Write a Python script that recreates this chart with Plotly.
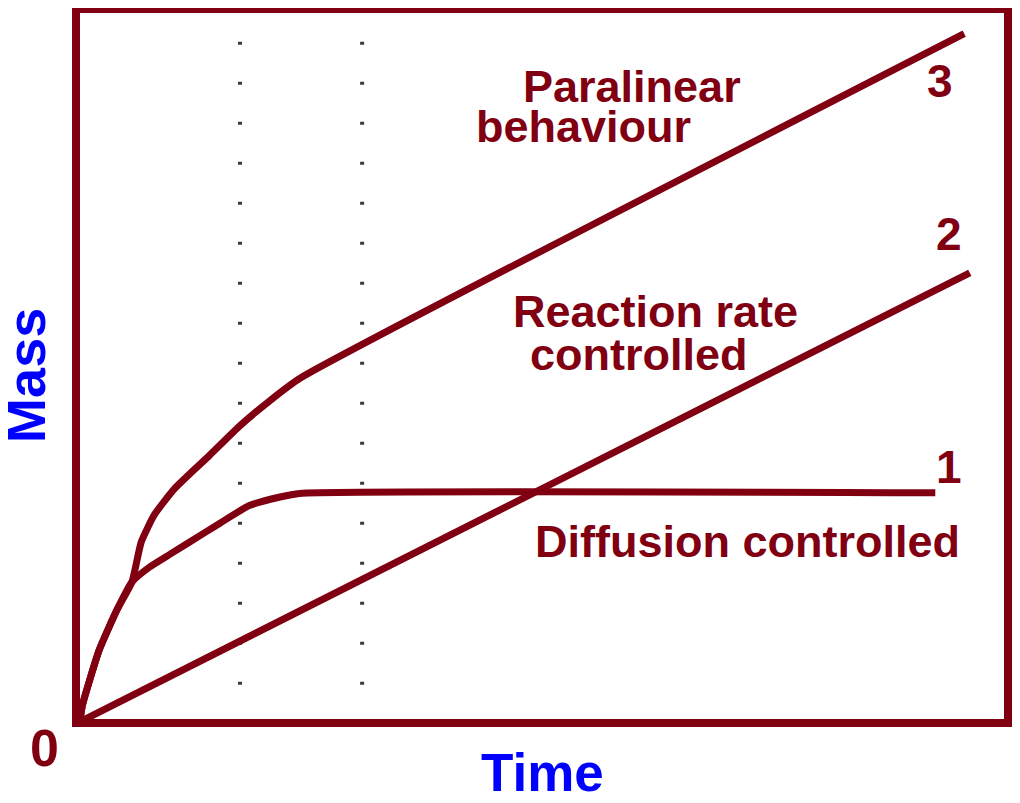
"""
Schematic mass gain vs time for the three oxidation kinetics regimes:
diffusion controlled (1), reaction rate controlled (2) and paralinear (3).
"""

import plotly.graph_objects as go

# ------------------------------------------------------------------------------------- #
# Data (time / mass in arbitrary units)
# ------------------------------------------------------------------------------------- #
time_diffusion = [0.0, 0.03, 0.21, 0.40, 0.56, 0.75, 0.97, 1.18, 1.50, 1.82, 2.15, 2.36, 9.18]
mass_diffusion = [0.0, 0.24, 1.01, 1.57, 1.96, 2.17, 2.35, 2.52, 2.78, 3.03, 3.15, 3.20, 3.21]

time_reaction = [0.0, 9.55]
mass_reaction = [0.0, 6.29]

time_paralinear = [0.0, 0.03, 0.21, 0.40, 0.56, 0.66, 0.80, 1.02, 1.39, 1.72, 2.04, 2.36, 9.49]
mass_paralinear = [0.0, 0.24, 1.01, 1.57, 1.96, 2.52, 2.90, 3.27, 3.73, 4.15, 4.50, 4.81, 9.64]

guide_times = [1.72, 3.03]
guide_span = [0.52, 9.54]

DARK_RED = '#800012'
BLUE = '#0000ff'
FONT = 'Liberation Sans, Arial, sans-serif'

fig = go.Figure()

# dotted guide lines
for gx in guide_times:
    fig.add_trace(go.Scatter(x=[gx, gx], y=guide_span, mode='lines',
                             line=dict(color='#3a3a3a', width=4, dash='3px,37px'),
                             hoverinfo='skip', showlegend=False))

# the three kinetics curves
for xs, ys in [(time_reaction, mass_reaction),
               (time_diffusion, mass_diffusion),
               (time_paralinear, mass_paralinear)]:
    fig.add_trace(go.Scatter(x=xs, y=ys, mode='lines',
                             line=dict(color=DARK_RED, width=7, shape='spline', smoothing=0.5),
                             showlegend=False))

# ------------------------------------------------------------------------------------- #
# Labels
# ------------------------------------------------------------------------------------- #
label_font = dict(family=FONT, size=45, color=DARK_RED, weight='bold')
curve_labels = [
    ('Paralinear', 4.73, 8.90),
    ('behaviour', 4.23, 8.34),
    ('Reaction rate', 4.63, 5.75),
    ('controlled', 4.81, 5.15),
    ('Diffusion controlled', 4.86, 2.53),
]
for txt, lx, ly in curve_labels:
    fig.add_annotation(x=lx, y=ly, xref='x', yref='y', text=txt, showarrow=False,
                       xanchor='left', yanchor='middle', font=label_font)

num_font = dict(family=FONT, size=46, color=DARK_RED, weight='bold')
for txt, lx, ly in [('3', 9.23, 8.98), ('2', 9.33, 6.84), ('1', 9.33, 3.57)]:
    fig.add_annotation(x=lx, y=ly, xref='x', yref='y', text=txt, showarrow=False,
                       xanchor='center', yanchor='middle', font=num_font)

fig.add_annotation(x=-0.034, y=-0.035, xref='paper', yref='paper', text='0', showarrow=False,
                   xanchor='center', yanchor='middle',
                   font=dict(family=FONT, size=52, color=DARK_RED, weight='bold'))
fig.add_annotation(x=-0.053, y=0.487, xref='paper', yref='paper', text='Mass', showarrow=False,
                   textangle=-90, xanchor='center', yanchor='middle',
                   font=dict(family=FONT, size=54, color=BLUE, weight='bold'))
fig.add_annotation(x=0.501, y=-0.07, xref='paper', yref='paper', text='Time', showarrow=False,
                   xanchor='center', yanchor='middle',
                   font=dict(family=FONT, size=53, color=BLUE, weight='bold'))

# frame round the plot area
fig.add_shape(type='rect', xref='paper', yref='paper', x0=0, y0=0, x1=1, y1=1,
              line=dict(color=DARK_RED, width=8))

# page body has an 8px margin, so the figure is sized to the visible window
fig.update_layout(
    width=1012, height=795,
    margin=dict(l=68, r=12, t=1, b=80),
    paper_bgcolor='white', plot_bgcolor='white',
    xaxis=dict(range=[-0.04, 9.96], visible=False, fixedrange=True),
    yaxis=dict(range=[-0.015, 9.985], visible=False, fixedrange=True),
)

fig.write_html("out.html")
